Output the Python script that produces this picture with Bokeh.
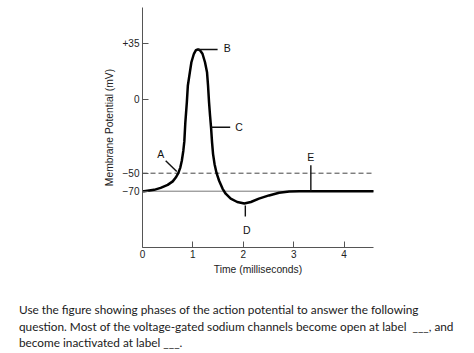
import numpy as np
from bokeh.plotting import figure
from bokeh.models import Range1d, FixedTicker, Div, ColumnDataSource, Span
from bokeh.layouts import column
from bokeh.embed import file_html
from bokeh.resources import INLINE

# ---------------- data ----------------
time_ms = [0.00, 0.03, 0.23, 0.36, 0.50, 0.60, 0.66, 0.71, 0.75, 0.78,
           0.81, 0.83, 0.85, 0.88, 0.90, 0.94, 0.97, 1.02, 1.06, 1.10,
           1.14, 1.19, 1.24, 1.28, 1.30, 1.32, 1.34, 1.36, 1.38, 1.40,
           1.43, 1.47, 1.52, 1.59, 1.65, 1.75, 1.88, 2.02, 2.15, 2.31,
           2.51, 2.71, 2.91, 3.11, 3.34, 4.58]
potential_mv = [-70.0, -70.0, -68.5, -66.3, -63.0, -59.1, -54.8, -50.0, -46.2, -41.6,
                -34.8, -28.5, -15.6, -2.0, 8.6, 16.9, 23.1, 28.4, 30.6, 31.1,
                30.6, 28.4, 23.1, 16.9, 8.6, -2.0, -11.0, -19.0, -29.2, -37.1,
                -43.9, -50.0, -58.4, -67.4, -72.8, -78.3, -82.0, -83.7, -82.0, -78.3,
                -74.7, -71.7, -70.3, -70.0, -70.0, -70.0]

resting_mv = -70
threshold_mv = -50

y_tick_mv = [-70, -50, 0, 35]
y_tick_labels = ["\u221270", "\u221250", "0", "+35"]
x_ticks = [0, 1, 2, 3, 4]

labels = ["A", "B", "C", "D", "E"]
label_t = [0.36, 1.61, 1.84, 2.07, 3.34]
label_mv = [-37.2, 31.7, -19.0, -112.6, -38.8]
pointer_t0 = [0.46, 1.10, 1.36, 2.04, 3.34]
pointer_mv0 = [-41.6, 31.1, -19.0, -85.9, -70.0]
pointer_t1 = [0.68, 1.49, 1.74, 2.04, 3.34]
pointer_mv1 = [-48.9, 31.1, -19.0, -98.1, -44.6]

question = ["Use the figure showing phases of the action potential to answer the following",
            "question. Most of the voltage-gated sodium channels become open at label \u00a0___, and",
            "become inactivated at label ___."]

# ---------------- schematic (non-uniform) axis spacing ----------------
tick_pos = [0, 18, 92, 148]


def to_axis(v):
    v = np.asarray(v, dtype=float)
    out = np.interp(v, y_tick_mv, tick_pos)
    out = np.where(v < y_tick_mv[0], (v - y_tick_mv[0]) * 0.9, out)
    out = np.where(v > y_tick_mv[-1], tick_pos[-1] + (v - y_tick_mv[-1]) * 1.6, out)
    return out


FONT = "Liberation Sans"

p = figure(width=474, height=285, output_backend="svg", toolbar_location=None,
           x_range=Range1d(0, 4.583), y_range=Range1d(-56.3, 183.7),
           min_border_left=142, min_border_right=101, min_border_top=7, min_border_bottom=38)
p.outline_line_color = None
p.grid.visible = False
p.background_fill_color = "white"

# reference lines
p.add_layout(Span(location=float(to_axis(resting_mv)), dimension="width",
                  line_color="#777777", line_width=1, level="underlay"))
p.add_layout(Span(location=float(to_axis(threshold_mv)), dimension="width",
                  line_color="#444444", line_width=1, line_dash="5 3", level="underlay"))

# action potential curve
src = ColumnDataSource(dict(t=time_ms, y=to_axis(potential_mv)))
p.line("t", "y", source=src, line_color="black", line_width=2.5,
       line_join="round", line_cap="round")

# pointers and labels
p.segment(x0=pointer_t0, y0=to_axis(pointer_mv0), x1=pointer_t1, y1=to_axis(pointer_mv1),
          line_color="#111111", line_width=1.4)
align = ["center", "left", "left", "center", "center"]
lsrc = ColumnDataSource(dict(t=label_t, y=to_axis(label_mv), txt=labels, al=align))
p.text("t", "y", text="txt", source=lsrc, text_align="al", text_baseline="middle",
       text_font={"value": FONT}, text_font_size="10.5px", text_color="#111111")

# axes
for ax in (p.xaxis[0], p.yaxis[0]):
    ax.axis_line_color = "#555555"
    ax.axis_line_width = 1
    ax.major_tick_line_color = "#555555"
    ax.major_tick_in = 6
    ax.major_tick_out = 0
    ax.minor_tick_line_color = None
    ax.major_label_text_font = FONT
    ax.major_label_text_font_size = "10px"
    ax.major_label_text_color = "#222222"
    ax.axis_label_text_font = FONT
    ax.axis_label_text_font_size = "10.3px"
    ax.axis_label_text_font_style = "normal"
    ax.axis_label_text_color = "#222222"

p.xaxis.ticker = FixedTicker(ticks=x_ticks)
p.xaxis.axis_label = "Time (milliseconds)"
p.xaxis.major_label_standoff = 2
p.xaxis.axis_label_standoff = 3

p.yaxis.ticker = FixedTicker(ticks=tick_pos)
p.yaxis.major_label_overrides = {tp: lab for tp, lab in zip(tick_pos, y_tick_labels)}
p.yaxis.axis_label = "Membrane Potential (mV)"
p.yaxis.major_label_standoff = 3
p.yaxis.axis_label_standoff = 5

div = Div(text=('<div style="font-family:Lato; font-size:11.8px; line-height:16.5px; '
                'color:#1a1a1a; padding-left:14px; padding-top:12px; white-space:nowrap;">'
                + "<br>".join(question) + "</div>"),
          width=474, height=68)

layout = column(p, div, spacing=0)

open("out.html", "w").write(file_html(layout, INLINE))
